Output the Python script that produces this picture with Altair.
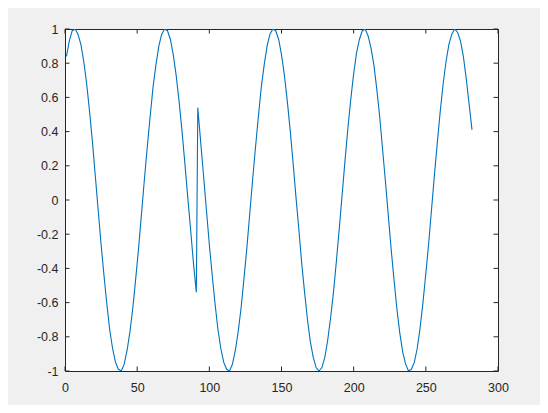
import altair as alt
import pandas as pd

# Segment 1 (x = 1..91, step 2)
x1 = list(range(1, 92, 2))
y1 = [0.84, 0.93, 0.99, 1.00, 0.97, 0.91, 0.81, 0.68, 0.52, 0.34,
      0.14, -0.06, -0.26, -0.44, -0.61, -0.76, -0.87, -0.95, -0.99, -1.00,
      -0.96, -0.88, -0.77, -0.63, -0.46, -0.28, -0.08, 0.12, 0.31, 0.49,
      0.66, 0.79, 0.90, 0.97, 1.00, 0.99, 0.94, 0.85, 0.73, 0.58,
      0.41, 0.22, 0.02, -0.17, -0.37, -0.54]

# Segment 2 (x = 92..282, step 2)
x2 = list(range(92, 283, 2))
y2 = [0.54, 0.34, 0.14, -0.06, -0.26, -0.44, -0.61, -0.76, -0.87, -0.95,
      -0.99, -1.00, -0.96, -0.88, -0.77, -0.63, -0.46, -0.28, -0.08, 0.12,
      0.31, 0.49, 0.66, 0.79, 0.90, 0.97, 1.00, 0.99, 0.94, 0.85,
      0.73, 0.58, 0.41, 0.22, 0.02, -0.17, -0.37, -0.54, -0.70, -0.83,
      -0.92, -0.98, -1.00, -0.98, -0.92, -0.82, -0.69, -0.54, -0.36, -0.17,
      0.03, 0.23, 0.42, 0.59, 0.74, 0.86, 0.94, 0.99, 1.00, 0.96,
      0.89, 0.79, 0.65, 0.49, 0.30, 0.11, -0.09, -0.29, -0.47, -0.64,
      -0.78, -0.89, -0.96, -1.00, -0.99, -0.95, -0.87, -0.75, -0.60, -0.43,
      -0.25, -0.05, 0.15, 0.34, 0.52, 0.68, 0.81, 0.91, 0.97, 1.00,
      0.98, 0.93, 0.84, 0.71, 0.56, 0.41]

x_ticks = [0, 50, 100, 150, 200, 250, 300]
y_ticks = [-1, -0.8, -0.6, -0.4, -0.2, 0, 0.2, 0.4, 0.6, 0.8, 1]

df = pd.DataFrame({"x": x1 + x2, "y": y1 + y2})
dfx = pd.DataFrame({"v": x_ticks})
dfy = pd.DataFrame({"v": y_ticks})

AX = "#262626"
FONT = "Liberation Sans"
FS = 12.5
xs = alt.Scale(domain=[0, 300], nice=False, zero=False)
ys = alt.Scale(domain=[-1, 1], nice=False, zero=False)
lab = "replace(format(datum.value, '.1~f'), '\u2212', '-')"

axX = alt.Axis(values=x_ticks, ticks=False, domain=False, grid=False, title=None,
               labelPadding=10, labelFont=FONT, labelFontSize=FS,
               labelColor=AX, labelExpr=lab, labelFlush=False,
               labelOverlap=False, labelBound=False)
axY = alt.Axis(values=y_ticks, ticks=False, domain=False, grid=False, title=None,
               labelPadding=7, labelFont=FONT, labelFontSize=FS,
               labelColor=AX, labelExpr=lab, labelFlush=False,
               labelOverlap=False, labelBound=False)

line = alt.Chart(df).mark_line(color="#0072BD", strokeWidth=1.1, clip=True).encode(
    x=alt.X("x:Q", scale=xs, axis=axX),
    y=alt.Y("y:Q", scale=ys, axis=axY),
)

T = 4.5
left_t = alt.Chart(dfy).mark_rule(color=AX, strokeWidth=1, x2Offset=T).encode(
    x=alt.datum(0, scale=xs, axis=axX), x2=alt.datum(0),
    y=alt.Y("v:Q", scale=ys, axis=axY))
right_t = alt.Chart(dfy).mark_rule(color=AX, strokeWidth=1, x2Offset=-T).encode(
    x=alt.datum(300, scale=xs, axis=axX), x2=alt.datum(300),
    y=alt.Y("v:Q", scale=ys, axis=axY))
bot_t = alt.Chart(dfx).mark_rule(color=AX, strokeWidth=1, y2Offset=-T).encode(
    y=alt.datum(-1, scale=ys, axis=axY), y2=alt.datum(-1),
    x=alt.X("v:Q", scale=xs, axis=axX))
top_t = alt.Chart(dfx).mark_rule(color=AX, strokeWidth=1, y2Offset=T).encode(
    y=alt.datum(1, scale=ys, axis=axY), y2=alt.datum(1),
    x=alt.X("v:Q", scale=xs, axis=axX))

chart = alt.layer(line, left_t, right_t, bot_t, top_t).properties(
    width=433, height=342,
    background="#f0f0f0",
    padding={"left": 57, "top": 21, "right": 42, "bottom": 34},
    autosize=alt.AutoSizeParams(type="none"),
).configure_view(fill="white", stroke=AX, strokeWidth=1)

chart.save("out.html", embed_options={"renderer": "svg", "actions": False})
